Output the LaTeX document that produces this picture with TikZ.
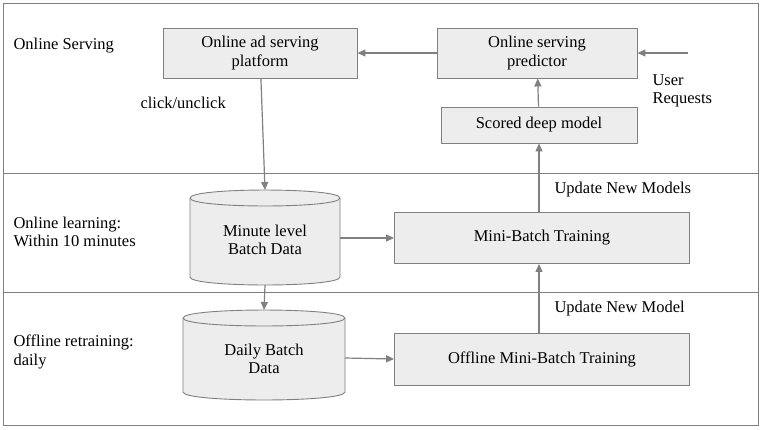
\documentclass[tikz,border=0pt]{standalone}
\usepackage{fontspec}
\setmainfont{Liberation Serif}
\usetikzlibrary{arrows.meta}
\begin{document}
\begin{tikzpicture}[x=1pt,y=-1pt,
  box/.style={draw=black!50,fill=black!7,line width=0.9pt,align=center,font=\fontsize{16.5}{18.5}\selectfont},
  lbl/.style={font=\fontsize{16.5}{18.5}\selectfont,align=left},
  arr/.style={draw=black!50,line width=1.2pt,-{Triangle[length=8pt,width=7pt]}}]
\useasboundingbox (0,0) rectangle (762,429);
\draw[black!50,line width=0.9pt] (3,3) rectangle (758,425);
\draw[black!50,line width=0.9pt] (3,173) -- (758,173) (3,292) -- (758,292);
% boxes
\node[box,minimum width=194,minimum height=50] (plat) at (260,53) {Online ad serving\\platform};
\node[box,minimum width=200,minimum height=50] (pred) at (537,53) {Online serving\\predictor};
\node[box,minimum width=196,minimum height=36] (scored) at (539,125) {Scored deep model};
\node[box,minimum width=295,minimum height=51] (mini) at (542,238) {Mini-Batch Training};
\node[box,minimum width=295,minimum height=52] (off) at (542,359) {Offline Mini-Batch Training};
% cylinders
\newcommand{\mycyl}[5]{% cx, top, bottom, rx, ry
  \filldraw[draw=black!50,fill=black!7,line width=0.9pt]
    (#1-#4,#2) -- (#1-#4,#3) .. controls (#1-#4,#3+1.33*#5) and (#1+#4,#3+1.33*#5) .. (#1+#4,#3)
    -- (#1+#4,#2) .. controls (#1+#4,#2-1.33*#5) and (#1-#4,#2-1.33*#5) .. (#1-#4,#2) -- cycle;
  \draw[black!50,line width=0.9pt] (#1-#4,#2) .. controls (#1-#4,#2+1.33*#5) and (#1+#4,#2+1.33*#5) .. (#1+#4,#2);}
\mycyl{265}{198}{277}{75}{8}
\mycyl{264}{318}{392}{81}{8}
\node[lbl,align=center,minimum width=150,minimum height=95] (minute) at (265,240) {Minute level\\Batch Data};
\node[lbl,align=center,minimum width=162,minimum height=90] (daily) at (264,359) {Daily Batch\\Data};
\coordinate (ur) at (688,53);
% labels
\node[lbl,anchor=west] at (10,46) {Online Serving};
\node[lbl,anchor=west] at (10,232) {Online learning:\\Within 10 minutes};
\node[lbl,anchor=west] at (10,352) {Offline retraining:\\daily};
\node[lbl,anchor=west] at (137,103) {click/unclick};
\node[lbl,anchor=west] at (649,91) {User\\Requests};
\node[lbl,anchor=west] at (551,190) {Update New Models};
\node[lbl,anchor=west] at (551,309) {Update New Model};
% arrows
\draw[arr] (pred) -- (plat);
\draw[arr] (ur) -- (pred.east);
\draw[arr] (scored) -- (pred);
\draw[arr] (mini.north -| scored) -- (scored);
\draw[arr] (plat) -- (265,190);
\draw[arr] (265,285) -- (264,310);
\draw[arr] (340,238) -- (mini.west);
\draw[arr] (345,358) -- (off.west);
\draw[arr] (off.north -| scored) -- (mini.south -| scored);
\end{tikzpicture}
\end{document}
